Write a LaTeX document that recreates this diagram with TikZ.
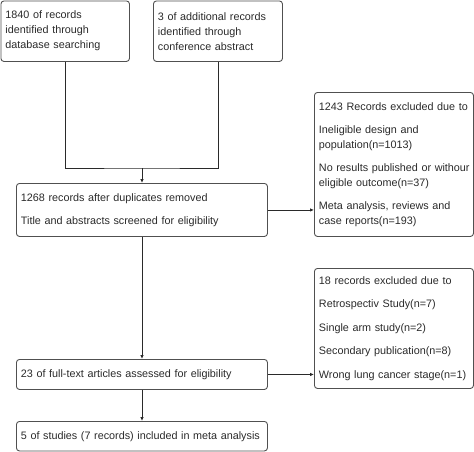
\documentclass[tikz,border=0pt]{standalone}
\usepackage{fontspec}
\setmainfont{Liberation Sans}
\usetikzlibrary{arrows.meta}
\definecolor{edge}{HTML}{505050}
\definecolor{ink}{HTML}{2A2A2A}
\hyphenpenalty=10000
\exhyphenpenalty=10000
\begin{document}
\begin{tikzpicture}[x=1pt,y=-1pt,
  box/.style={draw=edge,line width=0.9pt,rounded corners=3pt,anchor=north west,
    inner xsep=4.5pt,inner ysep=0pt,align=left,text=ink,
    font=\fontsize{10.8}{15}\selectfont},
  conn/.style={draw=ink,line width=0.9pt},
  arr/.style={conn,-{Latex[length=4pt,width=3.5pt]}}]
\useasboundingbox (0,0) rectangle (474,451);
\node[box,minimum width=128.5pt,minimum height=60.5pt,text width=119.5pt] (b1) at (0.5,0.5)
  {1840 of records\\identified through\\database searching};
\node[box,minimum width=129pt,minimum height=60.5pt,text width=120pt] (b2) at (153,0.5)
  {3 of additional records\\identified through\\conference abstract};
\node[box,minimum width=251pt,minimum height=53pt,text width=242pt] (b3) at (16,183)
  {1268 records after duplicates removed\\[8pt]Title and abstracts screened for eligibility};
\node[box,minimum width=159pt,minimum height=144pt,text width=150pt] (e1) at (314,92)
  {\mbox{1243 Records excluded due to}\\[8pt]Ineligible design and\\population(n=1013)\\[8pt]\mbox{No results published or withour}\\eligible outcome(n=37)\\[8pt]Meta analysis, reviews and\\case reports(n=193)};
\node[box,minimum width=159pt,minimum height=120pt,text width=150pt] (e2) at (314,268)
  {18 records excluded due to\\[8.5pt]Retrospectiv Study(n=7)\\[8.5pt]Single arm study(n=2)\\[8.5pt]Secondary publication(n=8)\\[8.5pt]\mbox{Wrong lung cancer stage(n=1)}};
\node[box,minimum width=251pt,minimum height=30pt,text width=242pt] (b4) at (16,359)
  {23 of full-text articles assessed for eligibility};
\node[box,minimum width=251pt,minimum height=29.5pt,text width=242pt] (b5) at (16,421)
  {5 of studies (7 records) included in meta analysis};
\coordinate (j) at (142,168);
\draw[conn] (b1.south) |- (j) -| (b2.south);
\draw[arr] (j) -- (b3.north -| j);
\draw[arr] (b3.east) -- (b3.east -| e1.west);
\draw[arr] (b4.east) -- (b4.east -| e2.west);
\draw[arr] (b3.south -| j) -- (b4.north -| j);
\draw[arr] (b4.south -| j) -- (b5.north -| j);
\end{tikzpicture}
\end{document}
